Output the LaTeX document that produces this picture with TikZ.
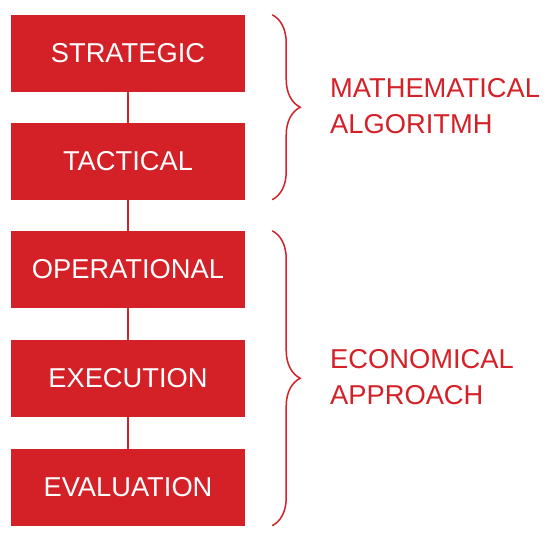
\documentclass[tikz,border=0pt]{standalone}
\usepackage{fontspec}
\setmainfont{Liberation Sans}
\usepackage{xcolor}
\usepackage{tikz}
\usetikzlibrary{decorations.pathreplacing}

\definecolor{planred}{RGB}{212,32,39}

\begin{document}
\begin{tikzpicture}[x=1pt,y=1pt,
  level/.style={fill=planred, text=white, minimum width=234pt, minimum height=76.5pt, inner sep=0pt,
    font=\fontsize{27.3}{32}\selectfont},
  note/.style={text=planred, align=left, inner sep=0pt, font=\fontsize{27.3}{36}\selectfont},
  brace/.style={planred, line width=1.5pt, decorate, decoration={brace, amplitude=28pt}}]
\useasboundingbox (0,0) rectangle (550,-538);
  \node[level]		   (STR) at (128,-53.25)         {STRATEGIC};
  \node[level]		   (TAC) at (128,-161.25)        {TACTICAL};
  \node[level]		   (OPE) at (128,-269.25)        {OPERATIONAL};
  \node[level]		   (EXE) at (128,-378.25)        {EXECUTION};
  \node[level]		   (EVA) at (128,-487.25)        {EVALUATION};

  \node[note, anchor=west]		   (MAT) at (330,-106)         {MATHEMATICAL\\ALGORITMH};
  \node[note, anchor=west]		   (ECO) at (330,-377)         {ECONOMICAL\\APPROACH};

  \path[draw=planred, line width=2pt] 
		(STR) edge              node {} (TAC)
        (TAC) edge              node {} (OPE)
        (OPE) edge              node {} (EXE)
        (EXE) edge              node {} (EVA);

  \draw[brace] ([xshift=27pt]STR.north east) -- ([xshift=27pt]TAC.south east);
  \draw[brace] ([xshift=27pt]OPE.north east) -- ([xshift=27pt]EVA.south east);
    \end{tikzpicture}
\end{document}
